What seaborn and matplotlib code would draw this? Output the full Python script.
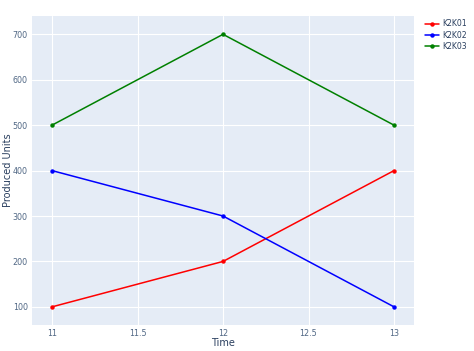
import matplotlib
matplotlib.use("Agg")
import matplotlib.pyplot as plt
import seaborn as sns
import pandas as pd

time = [11, 12, 13]
k2k01 = [100, 200, 400]
k2k02 = [400, 300, 100]
k2k03 = [500, 700, 500]
series_names = ["K2K01", "K2K02", "K2K03"]
colors = ["#ff0000", "#0000ff", "#008000"]

rows = []
for name, vals in zip(series_names, [k2k01, k2k02, k2k03]):
    for t, v in zip(time, vals):
        rows.append({"Time": t, "Produced Units": v, "Machine": name})
df = pd.DataFrame(rows)

sns.set_style("darkgrid", {"axes.facecolor": "#E5ECF6", "grid.color": "white"})
plt.rcParams['font.family'] = ['DejaVu Sans']
fc = "#2a3f5f"

fig = plt.figure(figsize=(4.74, 3.51), dpi=100)
ax = fig.add_axes([0.0675, 0.074, 0.806, 0.88])
sns.lineplot(data=df, x="Time", y="Produced Units", hue="Machine",
             palette=dict(zip(series_names, colors)), marker="o", markersize=3.2,
             markeredgewidth=0, linewidth=1.1, ax=ax)
ax.set_xlim(10.883, 13.117)
ax.set_ylim(60, 740)
ax.set_xticks([11, 11.5, 12, 12.5, 13])
ax.set_xticklabels(["11", "11.5", "12", "12.5", "13"])
ax.set_yticks([100, 200, 300, 400, 500, 600, 700])
ax.tick_params(axis='both', labelsize=5.8, colors="#506784", length=0, pad=3)
ax.set_xlabel("Time", fontsize=7, color=fc)
ax.set_ylabel("Produced Units", fontsize=7, color=fc)
ax.xaxis.set_label_coords(0.5, -0.058, transform=ax.transAxes)
ax.yaxis.set_label_coords(-0.063, 0.5, transform=ax.transAxes)
ax.xaxis.label.set_va("center")
ax.yaxis.label.set_va("center")
ax.grid(True, color="white", linewidth=0.8)
for s in ax.spines.values():
    s.set_visible(False)
leg = ax.legend(loc="upper left", bbox_to_anchor=(1.02, 1.0), frameon=False,
                fontsize=5.6, labelcolor=fc, handlelength=1.8, handletextpad=0.4,
                labelspacing=0.3, borderaxespad=0)
fig.savefig("out.png", dpi=100)
